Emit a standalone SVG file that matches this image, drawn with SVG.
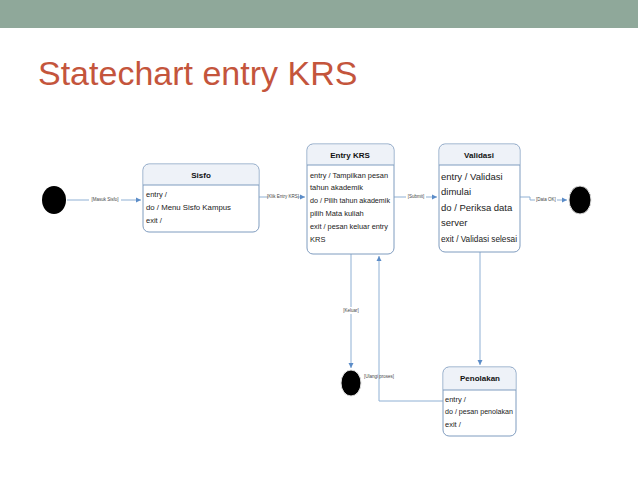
<svg xmlns="http://www.w3.org/2000/svg" width="638" height="478" viewBox="0 0 638 478">
<style>
.box{fill:#fff;stroke:#7f9cbf;stroke-width:1}
.hd{fill:#eef2f8}
.t{font-family:"Liberation Sans",sans-serif;font-size:7.5px;fill:#222}
.v{font-family:"Liberation Sans",sans-serif;font-size:9.5px;fill:#222}
.h{font-family:"Liberation Sans",sans-serif;font-size:8px;font-weight:bold;fill:#111;text-anchor:middle}
.l{font-family:"Liberation Sans",sans-serif;font-size:4.5px;fill:#444;text-anchor:middle}
.c{fill:none;stroke:#8fb0d4;stroke-width:1}
.lb{fill:#fff}
</style>
<defs><marker id="a" markerWidth="6" markerHeight="6" refX="5" refY="3" orient="auto"><path d="M0,0.5 L5,3 L0,5.5Z" fill="#5b8cc8"/></marker></defs>
<rect width="638" height="478" fill="#fff"/>
<rect width="638" height="28" fill="#8fa89a"/>
<text x="38" y="85" font-family="Liberation Sans,sans-serif" font-size="34" fill="#c4553c">Statechart entry KRS</text>
<g id="connectors">
<path class="c" d="M67,200 H141" marker-end="url(#a)"/>
<path class="c" d="M259,197 H305" marker-end="url(#a)"/>
<path class="c" d="M394,197 H437" marker-end="url(#a)"/>
<path class="c" d="M520,197 H530 V200 H567" marker-end="url(#a)"/>
<path class="c" d="M351,254 V368" marker-end="url(#a)"/>
<path class="c" d="M480,252 V365" marker-end="url(#a)"/>
<path class="c" d="M443,401 H379 V256" marker-end="url(#a)"/>
<rect class="lb" x="89" y="196" width="32" height="7"/><text class="l" x="105" y="201">[Masuk Sisfo]</text>
<rect class="lb" x="268" y="193" width="30" height="7"/><text class="l" x="283" y="198">[Klik Entry KRS]</text>
<rect class="lb" x="406" y="193" width="20" height="7"/><text class="l" x="416" y="198">[Submit]</text>
<rect class="lb" x="535" y="196" width="22" height="7"/><text class="l" x="546" y="201">[Data OK]</text>
<rect class="lb" x="342" y="307" width="18" height="7"/><text class="l" x="351" y="312">[Keluar]</text>
<text class="l" x="379" y="378">[Ulangi proses]</text>
</g>
<g id="initial"><ellipse cx="54" cy="200" rx="12" ry="14" fill="#000"/></g>
<g id="final1"><ellipse cx="580" cy="200" rx="11" ry="14" fill="#000" stroke="#ddd"/></g>
<g id="final2"><ellipse cx="351" cy="383" rx="10" ry="13" fill="#000" stroke="#ddd"/></g>
<g id="sisfo">
<rect class="box" x="143" y="164" width="116" height="68" rx="6"/>
<path class="hd" d="M149,164.5 H253 A5.5,5.5 0 0 1 258.5,170 V185 H143.5 V170 A5.5,5.5 0 0 1 149,164.5Z"/>
<line x1="143" y1="185" x2="259" y2="185" stroke="#7f9cbf"/>
<text class="h" x="201" y="178">Sisfo</text>
<text class="t" x="146" y="197">entry /</text>
<text class="t" x="146" y="210" textLength="85" lengthAdjust="spacingAndGlyphs">do / Menu Sisfo Kampus</text>
<text class="t" x="146" y="223">exit /</text>
</g>
<g id="entrykrs">
<rect class="box" x="307" y="144" width="87" height="110" rx="6"/>
<path class="hd" d="M313,144.5 H388 A5.5,5.5 0 0 1 393.5,150 V165 H307.5 V150 A5.5,5.5 0 0 1 313,144.5Z"/>
<line x1="307" y1="165" x2="394" y2="165" stroke="#7f9cbf"/>
<text class="h" x="350" y="158">Entry KRS</text>
<text class="t" x="310" y="178" textLength="78" lengthAdjust="spacingAndGlyphs">entry / Tampilkan pesan</text>
<text class="t" x="310" y="190">tahun akademik</text>
<text class="t" x="310" y="203" textLength="80" lengthAdjust="spacingAndGlyphs">do / Pilih tahun akademik</text>
<text class="t" x="310" y="216">pilih Mata kuliah</text>
<text class="t" x="310" y="229" textLength="78" lengthAdjust="spacingAndGlyphs">exit / pesan keluar entry</text>
<text class="t" x="310" y="242">KRS</text>
</g>
<g id="validasi">
<rect class="box" x="439" y="144" width="81" height="108" rx="6"/>
<path class="hd" d="M445,144.5 H514 A5.5,5.5 0 0 1 519.5,150 V165 H439.5 V150 A5.5,5.5 0 0 1 445,144.5Z"/>
<line x1="439" y1="165" x2="520" y2="165" stroke="#7f9cbf"/>
<text class="h" x="479" y="158">Validasi</text>
<text class="v" x="441" y="180">entry / Validasi</text>
<text class="v" x="441" y="195">dimulai</text>
<text class="v" x="441" y="211">do / Periksa data</text>
<text class="v" x="441" y="226">server</text>
<text class="v" x="441" y="242" textLength="76" lengthAdjust="spacingAndGlyphs">exit / Validasi selesai</text>
</g>
<g id="penolakan">
<rect class="box" x="443" y="367" width="73" height="69" rx="6"/>
<path class="hd" d="M449,367.5 H510 A5.5,5.5 0 0 1 515.5,373 V390 H443.5 V373 A5.5,5.5 0 0 1 449,367.5Z"/>
<line x1="443" y1="390" x2="516" y2="390" stroke="#7f9cbf"/>
<text class="h" x="480" y="381">Penolakan</text>
<text class="t" x="445" y="402">entry /</text>
<text class="t" x="445" y="414" textLength="68" lengthAdjust="spacingAndGlyphs">do /  pesan penolakan</text>
<text class="t" x="445" y="427">exit /</text>
</g>
</svg>
